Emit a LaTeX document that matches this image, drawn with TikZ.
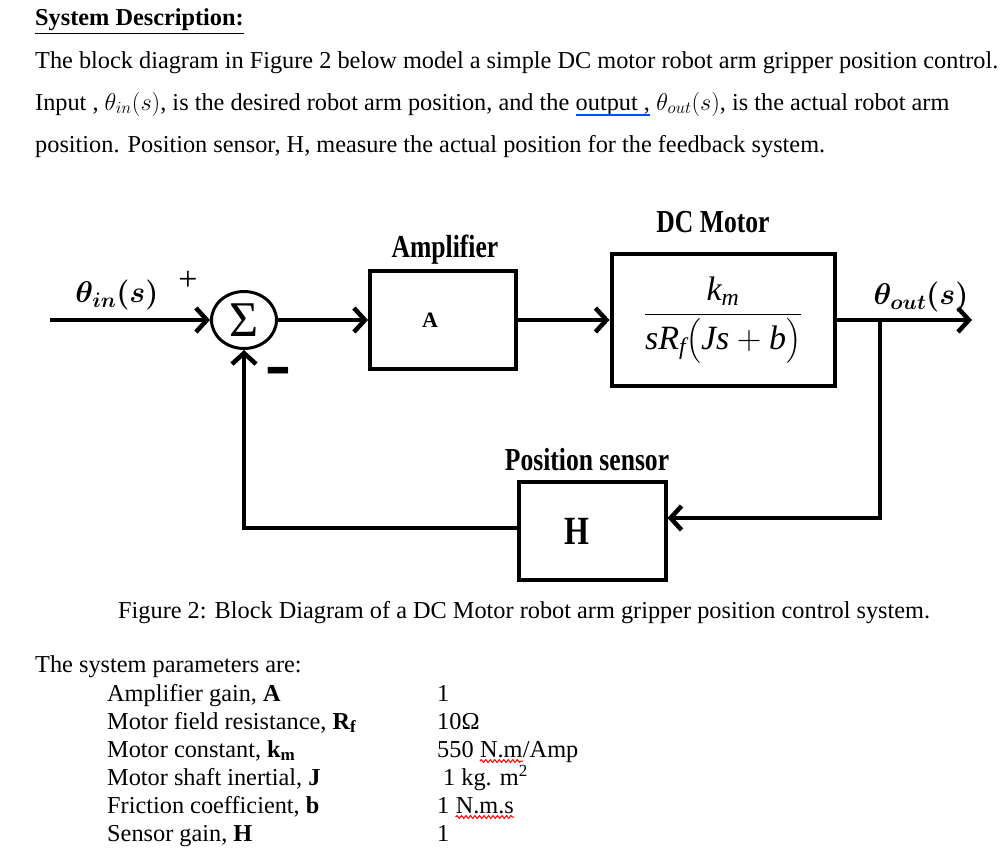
\documentclass[tikz,border=0pt]{standalone}
\usepackage{fix-cm}
\usepackage{amsmath}
\usepackage{bm}
\usepackage[no-math]{fontspec}
\setmainfont{Liberation Serif}
\usetikzlibrary{arrows.meta}
\usetikzlibrary{shapes.geometric}
\usetikzlibrary{decorations.pathmorphing}

\newcommand{\blab}[1]{\scalebox{0.8}[1]{#1}}

\tikzset{body/.style={anchor=base west,inner sep=0pt,font=\fontsize{24.3}{28}\selectfont},
         lab/.style={inner sep=0pt,font=\fontsize{32}{32}\selectfont\bfseries},
         blk/.style={draw,line width=4pt,inner sep=0pt},
         wire/.style={line width=4.5pt},
         arr/.style={wire,-{Straight Barb[length=11pt,width=24pt]}},
         redwave/.style={red,line width=1pt,decorate,decoration={snake,amplitude=1.4pt,segment length=4.5pt}}}

\begin{document}
\begin{tikzpicture}[x=1pt,y=-1pt]
\useasboundingbox (0,0) rectangle (1008,854);
% description
\node[body,font=\fontsize{24.3}{28}\selectfont\bfseries] (title) at (35,25) {\underline{System Description:}};
\node[body] (line1) at (35,68) {The block diagram in Figure 2 below model a simple DC motor robot arm gripper position control.};
\node[body] (line2a) at (35,110) {Input , $\theta_{in}(s)$, is the desired robot arm position, and the};
\node[body] (outw) at ([xshift=6pt]line2a.base east) {output ,};
\node[body] (line2b) at (outw.base east) {\ $\theta_{out}(s)$, is the actual robot arm};
\node[body] (line3) at (35,152) {position. Position sensor, H, measure the actual position for the feedback system.};
\draw[blue!70!cyan,line width=2.5pt] ([yshift=-5pt]outw.base west) -- ([yshift=-5pt]outw.base east);
% blocks
\node[draw,ellipse,line width=3pt,minimum width=65pt,minimum height=57pt,inner sep=0pt] (sum) at (244,320) {\fontsize{50}{50}\selectfont Σ};
\node[blk,minimum width=146pt,minimum height=98pt] (amp) at (443,320) {\fontsize{22}{22}\selectfont\bfseries A\kern26pt};
\node[blk,minimum width=223pt,minimum height=132pt] (motor) at (723,320)
  {\fontsize{34}{34}\selectfont$\dfrac{\textit{k}_{\textit{m}}}{\textit{sR}_{\textit{f}}\bigl(\textit{Js}+\textit{b}\bigr)}$};
\node[blk,minimum width=147pt,minimum height=98pt] (sensor) at (592,531) {\fontsize{40}{40}\selectfont\bfseries\blab{H}\kern30pt};
\node[lab] (amplab) at (445,250) {\blab{Amplifier}};
\node[lab] (motorlab) at (713,222) {\blab{DC Motor}};
\node[lab] (sensorlab) at (587,460) {\blab{Position sensor}};
\node[inner sep=0pt,font=\fontsize{30}{30}\selectfont] (thin) at (117,295) {$\bm{\theta_{in}(s)}$};
\node[inner sep=0pt,font=\fontsize{30}{30}\selectfont] (thout) at (921,297) {$\bm{\theta_{out}(s)}$};
\node[inner sep=0pt,font=\fontsize{34}{34}\selectfont] (plus) at (188,281) {+};
\node[inner sep=0pt,font=\fontsize{36}{36}\selectfont\bfseries] (minus) at (278,380) {\scalebox{1.1}[2.6]{--}};
% connectors
\coordinate (in) at (50,320);
\coordinate (out) at (972,320);
\coordinate (br) at (880,320);
\draw[arr] (in) -- (sum.west);
\draw[arr] (sum.east) -- (amp.west);
\draw[arr] (amp.east) -- (motor.west);
\draw[arr] (motor.east) -- (out);
\draw[arr] (br) |- ([yshift=13pt]sensor.east);
\draw[arr] ([yshift=3pt]sensor.west) -| (sum.south);
% caption and parameters
\node[body] (caption) at (118,618) {Figure 2: Block Diagram of a DC Motor robot arm gripper position control system.};
\node[body] (params) at (35,672) {The system parameters are:};
\node[body] (p1) at (107,701) {Amplifier gain, \textbf{A}};
\node[body] (p2) at (107,729) {Motor field resistance, \textbf{R\textsubscript{f}}};
\node[body] (p3) at (107,757) {Motor constant, \textbf{k\textsubscript{m}}};
\node[body] (p4) at (107,785) {Motor shaft inertial, \textbf{J}};
\node[body] (p5) at (107,813) {Friction coefficient, \textbf{b}};
\node[body] (p6) at (107,841) {Sensor gain, \textbf{H}};
\node[body] (v1) at (437,701) {1};
\node[body] (v2) at (437,729) {10Ω};
\node[body] (v3a) at (437,757) {550};
\node[body] (v3n) at ([xshift=6pt]v3a.base east) {N.m};
\node[body] (v3b) at (v3n.base east) {/Amp};
\node[body] (v4) at (443,785) {1 kg. m\textsuperscript{2}};
\node[body] (v5a) at (437,813) {1};
\node[body] (v5n) at ([xshift=6pt]v5a.base east) {N.m.s};
\node[body] (v6) at (437,841) {1};
\draw[redwave] ([yshift=-4pt]v3n.base west) -- ([yshift=-4pt]v3n.base east);
\draw[redwave] ([yshift=-4pt]v5n.base west) -- ([yshift=-4pt]v5n.base east);
\end{tikzpicture}
\end{document}
